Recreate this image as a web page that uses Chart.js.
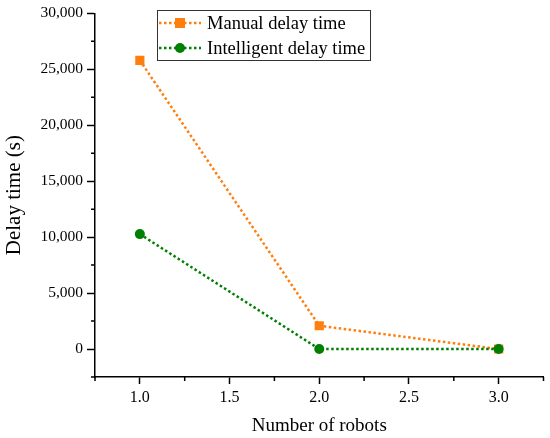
<!DOCTYPE html>
<html>
<head>
<meta charset="utf-8">
<script src="https://cdn.jsdelivr.net/npm/chart.js@4/dist/chart.umd.min.js"></script>
<style>
  html, body { margin: 0; padding: 0; background: #ffffff; }
  #wrap { width: 550px; height: 438px; }
</style>
</head>
<body>
<div id="wrap"><canvas id="c" width="550" height="438"></canvas></div>
<script>
// ---- Data ----
const robots = [1, 2, 3];
const manualDelay = [25800, 2080, 0];
const intelligentDelay = [10270, 0, 0];
const seriesLabels = ['Manual delay time', 'Intelligent delay time'];
const xTickValues = [1.0, 1.5, 2.0, 2.5, 3.0];
const xMinorTicks = [0.75, 1.25, 1.75, 2.25, 2.75, 3.25];
const yTickValues = [0, 5000, 10000, 15000, 20000, 25000, 30000];
const yMinorTicks = [-2500, 2500, 7500, 12500, 17500, 22500, 27500];
const xTitle = 'Number of robots';
const yTitle = 'Delay time (s)';

const ORANGE = '#FF7F0E';
const GREEN = '#008000';
const FONT = '"Liberation Serif", "Times New Roman", serif';

const toPoints = (xs, ys) => xs.map((x, i) => ({ x: x, y: ys[i] }));

const minorTicksPlugin = {
  id: 'minorTicks',
  afterDraw(chart) {
    const ctx = chart.ctx;
    const xs = chart.scales.x, ys = chart.scales.y;
    const area = chart.chartArea;
    ctx.save();
    ctx.strokeStyle = '#000';
    ctx.lineWidth = 1.5;
    ctx.beginPath();
    yMinorTicks.forEach(v => {
      const py = ys.getPixelForValue(v);
      ctx.moveTo(area.left - 4, py);
      ctx.lineTo(area.left, py);
    });
    xMinorTicks.forEach(v => {
      const px = xs.getPixelForValue(v);
      ctx.moveTo(px, area.bottom);
      ctx.lineTo(px, area.bottom + 4);
    });
    ctx.stroke();
    ctx.restore();
  }
};

const legendPlugin = {
  id: 'boxLegend',
  afterDraw(chart) {
    const ctx = chart.ctx;
    const bx = 157.5, by = 10.5, bw = 213, bh = 50;
    ctx.save();
    ctx.fillStyle = '#fff';
    ctx.fillRect(bx, by, bw, bh);
    ctx.strokeStyle = '#333';
    ctx.lineWidth = 1;
    ctx.strokeRect(bx, by, bw, bh);
    chart.data.datasets.forEach((ds, i) => {
      const cy = by + 12.5 + i * 25;
      ctx.strokeStyle = ds.borderColor;
      ctx.lineWidth = ds.borderWidth;
      ctx.setLineDash(ds.borderDash);
      ctx.beginPath();
      ctx.moveTo(159, cy);
      ctx.lineTo(201, cy);
      ctx.stroke();
      ctx.setLineDash([]);
      ctx.fillStyle = ds.pointBackgroundColor;
      if (ds.pointStyle === 'rect') {
        ctx.fillRect(175, cy - 5, 10, 10);
      } else {
        ctx.beginPath();
        ctx.arc(180, cy, 5, 0, Math.PI * 2);
        ctx.fill();
      }
      ctx.fillStyle = '#000';
      ctx.font = '18.5px ' + FONT;
      ctx.textBaseline = 'middle';
      ctx.textAlign = 'left';
      ctx.fillText(ds.label, 207, cy + 1);
    });
    ctx.restore();
  }
};

new Chart(document.getElementById('c'), {
  type: 'scatter',
  data: {
    datasets: [
      {
        label: seriesLabels[0],
        data: toPoints(robots, manualDelay),
        order: 1,
        showLine: true,
        borderColor: ORANGE,
        backgroundColor: ORANGE,
        pointBackgroundColor: ORANGE,
        pointBorderColor: ORANGE,
        borderWidth: 2.5,
        borderDash: [2.5, 2.5],
        pointStyle: 'rect',
        pointRadius: 6.5,
        pointBorderWidth: 0
      },
      {
        label: seriesLabels[1],
        data: toPoints(robots, intelligentDelay),
        order: 0,
        showLine: true,
        borderColor: GREEN,
        backgroundColor: GREEN,
        pointBackgroundColor: GREEN,
        pointBorderColor: GREEN,
        borderWidth: 2.5,
        borderDash: [2.5, 2.5],
        pointStyle: 'circle',
        pointRadius: 5,
        pointBorderWidth: 0
      }
    ]
  },
  options: {
    responsive: false,
    animation: false,
    layout: { padding: { top: 13, right: 6, left: 0, bottom: 0 } },
    plugins: { legend: { display: false }, tooltip: { enabled: false } },
    scales: {
      x: {
        type: 'linear',
        min: 0.75,
        max: 3.25,
        afterBuildTicks: s => { s.ticks = xTickValues.map(v => ({ value: v })); },
        afterFit: s => { s.height = 61; },
        ticks: {
          color: '#000',
          font: { family: FONT, size: 16 },
          padding: 4,
          maxRotation: 0,
          callback: v => Number(v).toFixed(1)
        },
        grid: { drawOnChartArea: false, drawTicks: true, tickLength: 7, tickColor: '#000', tickWidth: 1.5 },
        border: { display: true, color: '#000', width: 1.5 },
        title: { display: true, text: xTitle, color: '#000', font: { family: FONT, size: 19 }, padding: { top: 0, bottom: 1 } }
      },
      y: {
        type: 'linear',
        min: -2500,
        max: 30000,
        afterBuildTicks: s => { s.ticks = yTickValues.map(v => ({ value: v })); },
        afterFit: s => { s.width = 95; },
        ticks: {
          color: '#000',
          font: { family: FONT, size: 15.5 },
          padding: 4,
          callback: v => Number(v).toLocaleString('en-US')
        },
        grid: { drawOnChartArea: false, drawTicks: true, tickLength: 8, tickColor: '#000', tickWidth: 1.5 },
        border: { display: true, color: '#000', width: 1.5 },
        title: { display: true, text: yTitle, color: '#000', font: { family: FONT, size: 21 }, padding: { top: 2, bottom: 0 } }
      }
    }
  },
  plugins: [minorTicksPlugin, legendPlugin]
});
</script>
</body>
</html>
